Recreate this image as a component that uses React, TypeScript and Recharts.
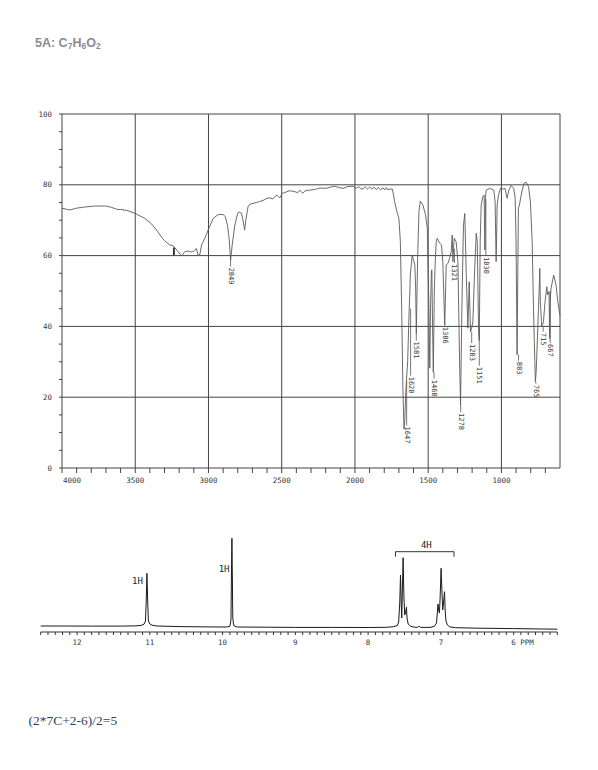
import { Line, LineChart, ReferenceDot, ReferenceLine, XAxis, YAxis } from "recharts";

// IR spectrum, wavenumber (cm-1) vs %T
const irWavenumber = [
  4000, 3970, 3945, 3900, 3850, 3780, 3700, 3660, 3627, 3600, 3580, 3575, 3565, 3500, 3434, 3390, 3354, 3320, 3300,
  3264, 3241, 3207, 3184, 3161, 3139, 3120, 3100, 3082, 3072, 3060, 3047, 3025, 2997, 2968, 2934, 2900, 2885, 2870,
  2859, 2849, 2838, 2820, 2800, 2791, 2775, 2762, 2753, 2745, 2730, 2718, 2672, 2650, 2627, 2600, 2582, 2560, 2540,
  2530, 2514, 2495, 2479, 2450, 2423, 2390, 2377, 2357, 2340, 2309, 2270, 2240, 2195, 2170, 2138, 2110, 2080, 2050,
  2013, 1990, 1975, 1960, 1945, 1930, 1915, 1900, 1885, 1870, 1855, 1840, 1825, 1809, 1795, 1786, 1775, 1763, 1745,
  1736, 1729, 1713, 1700, 1690, 1681, 1672, 1665, 1660, 1654, 1648, 1640, 1631, 1625, 1622, 1609, 1600, 1591, 1585,
  1581, 1576, 1572, 1563, 1554, 1536, 1518, 1506, 1495, 1489, 1484, 1478, 1475, 1470, 1465, 1458, 1452, 1445, 1438,
  1422, 1409, 1400, 1394, 1387, 1380, 1377, 1365, 1354, 1343, 1336, 1331, 1327, 1322, 1309, 1297, 1286, 1279, 1270,
  1259, 1250, 1240, 1229, 1220, 1211, 1203, 1195, 1184, 1172, 1165, 1156, 1151, 1145, 1138, 1127, 1118, 1113, 1109,
  1104, 1081, 1052, 1043, 1036, 1029, 1020, 1006, 990, 975, 961, 949, 934, 916, 906, 900, 893, 888, 884, 877, 865,
  847, 831, 815, 802, 790, 781, 772, 768, 763, 759, 747, 741, 738, 734, 725, 718, 713, 702, 690, 684, 675, 670, 666,
  661, 643, 627, 615, 600,
];
const irTransmittance = [
  73.4, 73.1, 72.9, 73.4, 73.7, 74.0, 74.0, 73.6, 73.1, 73.0, 73.0, 72.6, 72.9, 71.9, 70.5, 69.0, 67.2, 65.2, 64.2,
  63.0, 62.8, 61.1, 59.9, 61.1, 61.3, 61.0, 61.2, 62.0, 60.2, 60.1, 63.0, 64.9, 67.7, 70.5, 71.6, 71.6, 71.0, 68.5,
  64.9, 58.6, 63.0, 68.6, 72.0, 72.3, 72.0, 69.5, 67.2, 70.0, 73.8, 74.5, 75.0, 75.3, 75.6, 76.2, 76.3, 76.0, 77.0,
  77.0, 76.3, 77.6, 77.8, 78.3, 78.2, 77.8, 78.5, 77.6, 78.3, 78.5, 78.7, 79.1, 79.0, 79.3, 79.6, 79.2, 79.0, 79.5,
  79.6, 79.0, 79.5, 78.9, 78.8, 79.4, 78.8, 79.4, 78.8, 79.3, 78.7, 79.2, 78.6, 79.1, 78.6, 79.2, 78.6, 78.8, 78.8,
  77.1, 75.2, 72.4, 70.5, 64.0, 45.1, 21.6, 11.0, 13.5, 20.0, 25.0, 30.0, 43.2, 50.0, 54.5, 60.2, 58.8, 57.3, 50.0,
  38.0, 50.0, 59.2, 72.4, 75.4, 74.3, 71.5, 67.7, 45.1, 28.2, 45.0, 55.5, 56.0, 40.0, 27.0, 50.0, 58.0, 64.0, 64.9,
  63.5, 63.0, 58.3, 50.0, 40.4, 52.0, 57.4, 57.8, 59.2, 61.1, 65.8, 58.3, 62.0, 64.9, 63.9, 58.3, 31.0, 17.8, 45.1,
  68.6, 71.9, 54.5, 39.5, 52.6, 38.5, 39.5, 41.3, 54.5, 66.3, 64.0, 39.5, 36.0, 64.0, 74.3, 76.7, 77.1, 61.6, 76.2,
  78.5, 79.0, 78.5, 75.2, 58.3, 74.3, 77.1, 79.0, 78.8, 79.0, 76.2, 78.5, 79.8, 79.0, 76.2, 64.0, 32.0, 55.0, 73.4,
  74.3, 77.1, 80.4, 80.7, 79.5, 75.2, 64.0, 45.1, 30.1, 24.4, 27.0, 31.0, 45.1, 52.0, 56.4, 47.0, 40.0, 40.5, 41.3,
  47.0, 51.2, 48.9, 49.8, 36.6, 48.0, 50.8, 54.5, 51.7, 47.0, 43.0,
];

const irGridX = [3500, 3000, 2500, 2000, 1500, 1000];
const irGridY = [20, 40, 60, 80];
const irXTicks = [
  4000, 3900, 3800, 3700, 3600, 3500, 3400, 3300, 3200, 3100, 3000, 2900, 2800, 2700, 2600, 2500, 2400, 2300, 2200,
  2100, 2000, 1900, 1800, 1700, 1600, 1500, 1400, 1300, 1200, 1100, 1000, 900, 800, 700,
];
const irXLabels = [4000, 3500, 3000, 2500, 2000, 1500, 1000];
const irYTicks = [0, 5, 10, 15, 20, 25, 30, 35, 40, 45, 50, 55, 60, 65, 70, 75, 80, 85, 90, 95, 100];
const irYLabels = [0, 20, 40, 60, 80, 100];

// peak labels: text, where it hangs, %T of the peak tip, %T of the label top
const peakText = ["2849", "1647", "1620", "1581", "1460", "1386", "1321", "1278", "1203", "1151", "1030", "883", "765", "715", "667"];
const peakAt = [2849, 1647, 1620, 1581, 1460, 1386, 1321, 1278, 1203, 1151, 1106, 883, 765, 715, 667];
const peakTip = [58.6, 25, 45, 38, 27, 40.4, 62, 17.8, 38.5, 40, 76, 32, 24.4, 40, 50];
const peakLabelTop = [56.6, 11.7, 25.8, 35.7, 24.9, 39.9, 57.6, 15.5, 35, 28.6, 59.6, 30, 23.5, 38.2, 35];

// 1H NMR, ppm vs intensity
const nmrPpm = [
  12.5, 12.2, 11.8, 11.4, 11.2, 11.12, 11.08, 11.06, 11.05, 11.04, 11.03, 11.02, 11.0, 10.97, 10.9, 10.6, 10.2, 9.95,
  9.9, 9.885, 9.878, 9.872, 9.866, 9.86, 9.85, 9.84, 9.8, 9.4, 9.0, 8.5, 8.0, 7.75, 7.65, 7.6, 7.58, 7.565, 7.555,
  7.545, 7.538, 7.53, 7.519, 7.508, 7.497, 7.485, 7.473, 7.465, 7.45, 7.42, 7.38, 7.32, 7.3, 7.28, 7.15, 7.09, 7.06,
  7.048, 7.04, 7.03, 7.02, 7.01, 6.997, 6.985, 6.975, 6.965, 6.95, 6.94, 6.93, 6.91, 6.88, 6.8, 6.5, 6.0, 5.6, 5.4,
];
const nmrIntensity = [
  6.0, 6.0, 5.9, 5.9, 6.1, 6.6, 7.8, 11, 30, 58.7, 32, 11, 8, 6.8, 6.0, 5.4, 5.1, 5.0,
  5.6, 12, 60, 93.7, 55, 14, 8, 6, 5.0, 4.8, 4.6, 4.6, 4.5, 4.7, 5.3, 6.5, 10, 30, 57,
  28, 14, 40, 74.3, 35, 17, 20, 24.7, 14, 8, 6, 5, 4.6, 5.8, 4.6, 4.6, 5.6, 9,
  20, 28, 22, 19, 35, 63.7, 40, 22, 28, 40.3, 20, 11, 7, 5.2, 4.3, 3.8, 3.4, 3.0, 2.8,
];
const nmrTicks = Array.from({ length: 72 }, (_, i) => Math.round((5.4 + i * 0.1) * 10) / 10);
const nmrIntegralText = ["1H", "1H", "4H"];
const nmrIntegralAt = [11.17, 9.98, 7.2];
const nmrIntegralY = [51, 63, 87];
const nmrBracket = [7.624, 6.82];

const irData = irWavenumber.map((wn, i) => ({ wn, t: irTransmittance[i] }));
const nmrData = nmrPpm.map((ppm, i) => ({ ppm, v: nmrIntensity[i] }));

const MONO = "DejaVu Sans Mono, monospace";
const INK = "#3a3a3a";

function IrXTick({ x, y, payload }: any) {
  const v = payload.value;
  if (!irXLabels.includes(v)) return <g />;
  const first = v === 4000;
  return (
    <text x={first ? x + 1 : x} y={y + 8} textAnchor={first ? "start" : "middle"} fontSize={7.5} fontFamily={MONO} fill={INK}>
      {v}
    </text>
  );
}

function NmrXTick({ x, y, payload }: any) {
  const v = payload.value;
  if (Math.abs(v - Math.round(v)) > 1e-6) return <g />;
  const last = Math.round(v) === 6;
  return (
    <text x={last ? x - 2.5 : x} y={y + 7.5} textAnchor={last ? "start" : "middle"} fontSize={7.5} fontFamily={MONO} fill={INK}>
      {last ? "6 PPM" : Math.round(v)}
    </text>
  );
}

const peakShape = (text: string) => (p: any) => (
  <text
    x={p.cx}
    y={p.cy}
    transform={`rotate(90 ${p.cx} ${p.cy})`}
    textAnchor="start"
    dominantBaseline="central"
    fontSize={7}
    fontFamily={MONO}
    fill={INK}
  >
    {text}
  </text>
);

const centeredText = (text: string) => (p: any) => (
  <text x={p.cx} y={p.cy} textAnchor="middle" dominantBaseline="central" fontSize={9} fontFamily={MONO} fill="#222">
    {text}
  </text>
);

function IrChart() {
  return (
    <LineChart width={598} height={500} data={irData} margin={{ top: 114, right: 38, bottom: 2, left: 22 }}>
      <XAxis
        dataKey="wn"
        type="number"
        domain={[600, 4000]}
        reversed
        ticks={irXTicks}
        interval={0}
        tick={<IrXTick />}
        tickSize={5}
        height={30}
        axisLine={{ stroke: "#444" }}
        tickLine={{ stroke: "#444" }}
      />
      <YAxis
        type="number"
        domain={[0, 100]}
        ticks={irYTicks}
        interval={0}
        width={40}
        tickSize={3}
        tickMargin={7}
        tickFormatter={(v: number) => (irYLabels.includes(v) ? String(v) : "")}
        tick={{ fontSize: 7.5, fontFamily: MONO, fill: INK }}
        axisLine={{ stroke: "#444" }}
        tickLine={{ stroke: "#444" }}
      />
      {irGridX.map((g) => (
        <ReferenceLine key={"gx" + g} x={g} stroke="#444" strokeWidth={1} />
      ))}
      {irGridY.map((g) => (
        <ReferenceLine key={"gy" + g} y={g} stroke="#444" strokeWidth={1} />
      ))}
      <ReferenceLine y={100} stroke="#444" strokeWidth={1} />
      <ReferenceLine x={600} stroke="#444" strokeWidth={1} />
      <ReferenceLine segment={[{ x: 3236, y: 60.1 }, { x: 3236, y: 62.3 }]} stroke="#111" strokeWidth={1.6} />
      {peakText.map((t, i) => (
        <ReferenceLine
          key={"pl" + i}
          segment={[{ x: peakAt[i], y: peakTip[i] }, { x: peakAt[i], y: peakLabelTop[i] + 0.3 }]}
          stroke="#555"
          strokeWidth={0.8}
        />
      ))}
      {peakText.map((t, i) => (
        <ReferenceDot key={"pt" + i} x={peakAt[i]} y={peakLabelTop[i]} r={0} shape={peakShape(t)} />
      ))}
      <Line dataKey="t" type="linear" stroke="#5a5a5a" strokeWidth={0.9} dot={false} isAnimationActive={false} />
    </LineChart>
  );
}

function NmrChart() {
  return (
    <LineChart width={598} height={170} data={nmrData} margin={{ top: 32, right: 40.7, bottom: 18, left: 40.7 }}>
      <XAxis
        dataKey="ppm"
        type="number"
        domain={[5.4, 12.5]}
        reversed
        ticks={nmrTicks}
        interval={0}
        tick={<NmrXTick />}
        tickSize={3}
        height={20}
        axisLine={{ stroke: "#333" }}
        tickLine={{ stroke: "#333" }}
      />
      <YAxis hide type="number" domain={[0, 100]} />
      <ReferenceLine segment={[{ x: nmrBracket[0], y: 80.3 }, { x: nmrBracket[1], y: 80.3 }]} stroke="#333" />
      <ReferenceLine segment={[{ x: nmrBracket[0], y: 80.3 }, { x: nmrBracket[0], y: 75.3 }]} stroke="#333" />
      <ReferenceLine segment={[{ x: nmrBracket[1], y: 80.3 }, { x: nmrBracket[1], y: 75.3 }]} stroke="#333" />
      {nmrIntegralText.map((t, i) => (
        <ReferenceDot key={"ni" + i} x={nmrIntegralAt[i]} y={nmrIntegralY[i]} r={0} shape={centeredText(t)} />
      ))}
      <Line dataKey="v" type="linear" stroke="#1a1a1a" strokeWidth={1} dot={false} isAnimationActive={false} />
    </LineChart>
  );
}

export default function App() {
  return (
    <div style={{ position: "absolute", left: 0, top: 0, width: 598, height: 770, background: "#fff" }}>
      <div style={{ position: "absolute", left: 0, top: 0 }}>
        <IrChart />
      </div>
      <div style={{ position: "absolute", left: 0, top: 500 }}>
        <NmrChart />
      </div>
      <svg width={598} height={770} style={{ position: "absolute", left: 0, top: 0, pointerEvents: "none" }}>
        <text x={35} y={46.5} fontFamily="Liberation Sans, Arial, sans-serif" fontWeight="bold" fontSize={12.5} fill="#8c8c8c">
          5A: C<tspan fontSize={8.5} dy={2.5}>7</tspan>
          <tspan dy={-2.5}>H</tspan>
          <tspan fontSize={8.5} dy={2.5}>6</tspan>
          <tspan dy={-2.5}>O</tspan>
          <tspan fontSize={8.5} dy={2.5}>2</tspan>
        </text>
        <text x={28.5} y={725} fontFamily="Liberation Serif, Times New Roman, serif" fontSize={13.5} fill="#33405e">
          (2*7C+2-6)/2=5
        </text>
      </svg>
    </div>
  );
}
